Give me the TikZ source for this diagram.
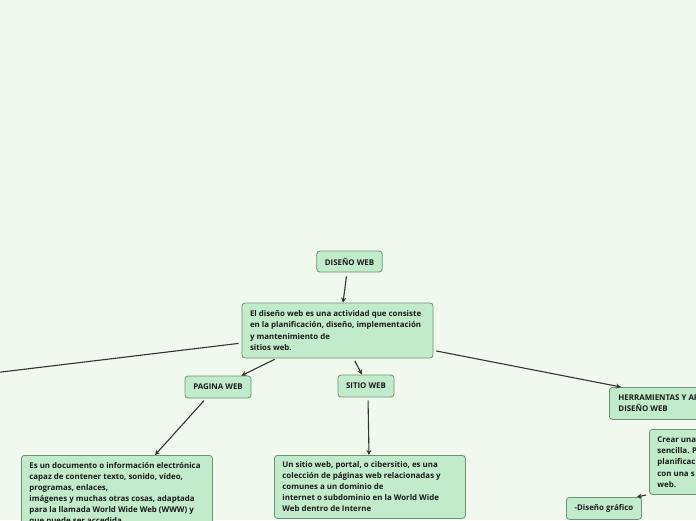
\documentclass[tikz,border=0pt]{standalone}
\usepackage{fontspec}
\setmainfont{Open Sans}
\usetikzlibrary{arrows.meta,calc}
\definecolor{bg}{HTML}{F1F9EF}
\definecolor{boxfill}{HTML}{C2EBCB}
\definecolor{boxdraw}{HTML}{6E9275}
\definecolor{linec}{HTML}{333333}
\definecolor{txt}{HTML}{1A1A1A}
\begin{document}
\begin{tikzpicture}[x=1pt,y=-1pt,
  topic/.style={draw=boxdraw, fill=boxfill, rounded corners=3pt, line width=0.8pt,
    font=\bfseries\fontsize{7.9}{11.3}\selectfont, text=txt, align=flush left,
    inner xsep=8pt, inner ysep=5pt},
  conn/.style={draw=linec, line width=1.1pt, -{Stealth[length=5pt,width=5pt]}}]
\fill[bg] (0,0) rectangle (696,520);
\useasboundingbox (0,0) rectangle (696,520);

\node[topic, minimum width=65pt, minimum height=21pt, align=center] (title) at (349.5,261.5) {DISEÑO WEB};
\node[topic, minimum width=191pt, minimum height=55pt, text width=175pt] (main) at (337.5,330.5)
  {\mbox{El diseño web es una actividad que consiste}\\\mbox{en la planificación, diseño, implementación}\\y mantenimiento de\\sitios web.};
\node[topic, minimum width=66pt, minimum height=22pt, align=center] (pagina) at (218,387) {PAGINA WEB};
\node[topic, minimum width=56pt, minimum height=22pt, align=center] (sitio) at (366,386) {SITIO WEB};
\node[topic, anchor=north west, minimum height=32pt, text width=140pt, inner xsep=9pt] (herr) at (609,387)
  {HERRAMIENTAS Y AP\\DISEÑO WEB};
\node[topic, anchor=north west, text width=175pt, inner ysep=7.5pt, font=\bfseries\fontsize{7.9}{11}\selectfont] (doc1) at (21,455)
  {\mbox{Es un documento o información electrónica}\\capaz de contener texto, sonido, vídeo,\\programas, enlaces,\\\mbox{imágenes y muchas otras cosas, adaptada}\\\mbox{para la llamada World Wide Web (WWW) y}\\que puede ser accedida};
\node[topic, anchor=north west, text width=175pt, inner ysep=6.5pt, font=\bfseries\fontsize{7.9}{11}\selectfont] (doc2) at (274,455)
  {\mbox{Un sitio web, portal, o cibersitio, es una}\\\mbox{colección de páginas web relacionadas y}\\comunes a un dominio de\\\mbox{internet o subdominio en la World Wide}\\Web dentro de Interne};
\node[topic, anchor=north west, minimum height=65pt, text width=100pt] (crear) at (649,429)
  {Crear una\\sencilla. P\\planificac\\con una s\\web.};
\node[topic, anchor=north west, minimum width=75pt, minimum height=22pt, inner xsep=7pt] (grafico) at (566,497)
  {-Diseño gráfico};

\coordinate (leftend) at (-40,377);
\draw[conn, shorten <=4pt] ([xshift=-2.5pt]title.south) -- ([xshift=5.5pt]main.north);
\draw[conn] ($(main.south west)+(-3,-15)$) -- (leftend);
\draw[conn, shorten <=2pt] ($(main.south west)+(35,0)$) -- ($(pagina.north east)+(-10,0)$);
\draw[conn, shorten <=3pt] ($(main.south)+(16,0)$) -- ($(sitio.north)+(-4,0)$);
\draw[conn, shorten <=3pt] ($(main.south east)+(0,-8)$) -- ($(herr.north west)+(12,0)$);
\draw[conn, shorten <=3pt] ($(pagina.south)+(-12,0)$) -- ($(doc1.north west)+(134,0)$);
\draw[conn, shorten <=3pt] ($(sitio.south)+(2,0)$) -- ($(doc2.north west)+(95,0)$);
\draw[conn, shorten <=1pt] ($(crear.south west)+(-2,0)$) -- ($(grafico.north east)+(-5,0)$);
\end{tikzpicture}
\end{document}
